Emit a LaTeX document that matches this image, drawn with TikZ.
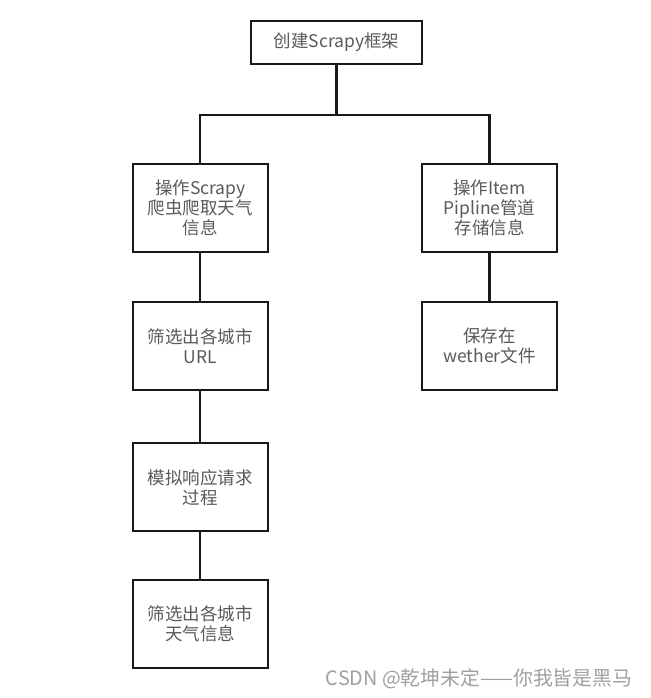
\documentclass[tikz,border=0pt]{standalone}
\usepackage{fontspec}
\setmainfont{Noto Sans CJK SC}
\definecolor{txt}{HTML}{5A5A5A}
\definecolor{wm}{HTML}{A0A0A0}
\begin{document}
\begin{tikzpicture}[x=1pt,y=-1pt,
  box/.style={draw=black!90,line width=2.2pt,fill=white,minimum width=135pt,minimum height=88pt,
    inner sep=2pt,align=center,text=txt,font=\fontsize{17.5}{20}\selectfont},
  link/.style={draw=black!90,line width=2.2pt}]
\useasboundingbox (0,0) rectangle (650,698);
\fill[white] (0,0) rectangle (650,698);
\node[box,minimum width=171pt,minimum height=43pt] (top) at (336.5,42.5) {创建Scrapy框架};
\node[box] (l1) at (200.3,208.3) {操作Scrapy\\爬虫爬取天气\\信息};
\node[box] (l2) at (200.3,346) {筛选出各城市\\URL};
\node[box] (l3) at (200.3,487.3) {模拟响应请求\\过程};
\node[box] (l4) at (200.3,624) {筛选出各城市\\天气信息};
\node[box] (r1) at (489.5,208.3) {操作Item\\Pipline管道\\存储信息};
\node[box] (r2) at (489.5,346) {保存在\\wether文件};
\coordinate (j) at (336.5,115);
\coordinate (hl) at (200.3,115);
\coordinate (hr) at (489.5,115);
\draw[link] (top.south) -- (j);
\draw[link] (l1.north) -- (hl) -- (hr) -- (r1.north);
\draw[link] (l1.south) -- (l2.north);
\draw[link] (l2.south) -- (l3.north);
\draw[link] (l3.south) -- (l4.north);
\draw[link] (r1.south) -- (r2.north);
\node[text=wm,font=\fontsize{19.8}{22}\selectfont,inner sep=0pt] (wmk) at (479,679) {CSDN @乾坤未定——你我皆是黑马};
\end{tikzpicture}
\end{document}
